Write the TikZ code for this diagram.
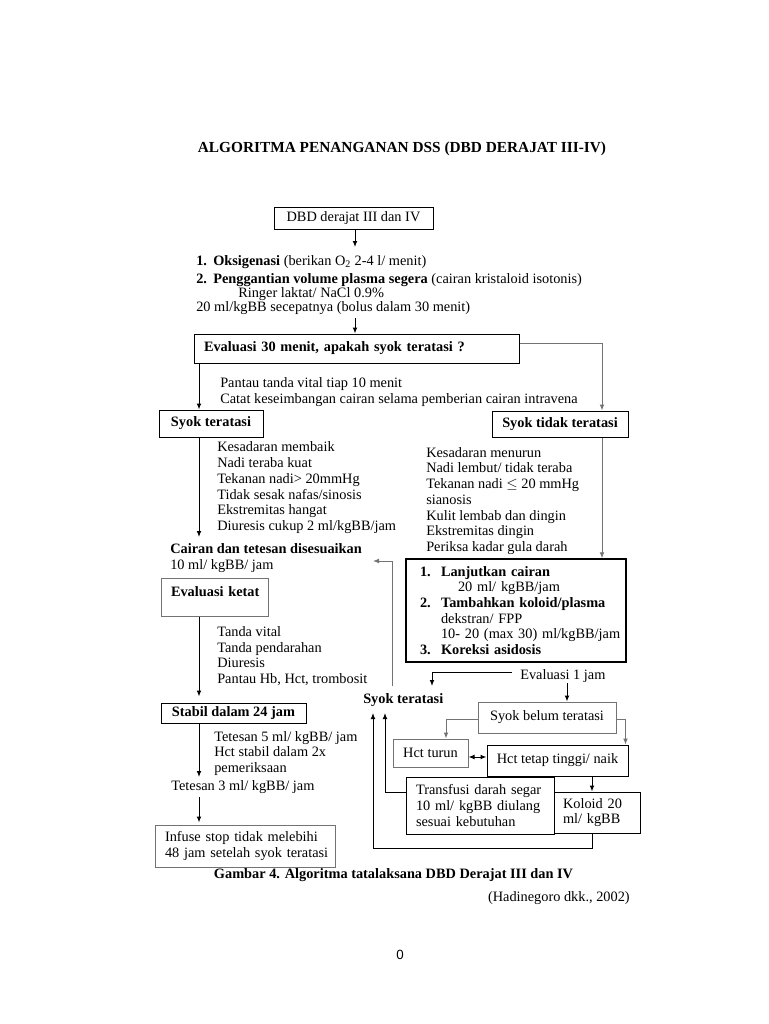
\documentclass[tikz,border=0pt]{standalone}
\usepackage{fontspec}
\setmainfont{Liberation Serif}
\newfontfamily\sansfont{Liberation Sans}
\usetikzlibrary{arrows.meta,calc}
\newcommand\teks{\fontsize{10.75pt}{11.8pt}\selectfont}
\colorlet{abu}{black!55}
\begin{document}
\begin{tikzpicture}[x=0.75pt,y=-0.75pt,
	every node/.style={font=\teks},
	kotak/.style={draw, inner sep=0pt, line width=0.75pt},
	tulis/.style={anchor=base west, inner sep=0pt, align=left},
	panah/.style={-{Latex[length=4.5pt,width=3.6pt]}, line width=0.75pt}]
	\fill[white] (0,0) rectangle (768,1024);
	\useasboundingbox (0,0) rectangle (768,1024);
	% judul
	\node[inner sep=0pt, anchor=base, font=\fontsize{11.5pt}{13pt}\selectfont\bfseries] (judul) at (402,152) {ALGORITMA PENANGANAN DSS (DBD DERAJAT III-IV)};
	% kotak
	\node[kotak, minimum width=159*0.75pt, minimum height=22*0.75pt] (dbd) at (353.5,218) {DBD derajat III dan IV};
	\node[kotak, minimum width=325*0.75pt, minimum height=29*0.75pt, text width=305*0.75pt, align=left, font=\teks\bfseries] (eval30) at (356.5,348.5) {Evaluasi 30 menit, apakah syok teratasi ?};
	\node[kotak, minimum width=104*0.75pt, minimum height=27*0.75pt, font=\teks\bfseries] (teratasi) at (211,423.5) {Syok teratasi};
	\node[kotak, minimum width=136*0.75pt, minimum height=26*0.75pt, font=\teks\bfseries] (tidak) at (560,424) {Syok tidak teratasi};
	\node[kotak, line width=1.1pt, minimum width=220*0.75pt, minimum height=103*0.75pt, text width=192*0.75pt, align=left] (lanjut) at (516,610.5) {\makebox[15.75pt][l]{\bfseries 1.}\textbf{Lanjutkan cairan}\\
		\hspace*{28.5pt}20 ml/ kgBB/jam\\
		\mbox{\makebox[15.75pt][l]{\bfseries 2.}\textbf{Tambahkan koloid/plasma}}\\
		\hspace*{15.75pt}dekstran/ FPP\\
		\mbox{\hspace*{15.75pt}10- 20 (max 30) ml/kgBB/jam}\\
		\makebox[15.75pt][l]{\bfseries 3.}\textbf{Koreksi asidosis}};
	\node[kotak, draw=abu, minimum width=107*0.75pt, minimum height=38*0.75pt, text width=87*0.75pt, align=left, text height=6.4pt, text depth=7.9pt, font=\teks\bfseries] (ketat) at (214.5,597) {\mbox{Evaluasi ketat}};
	\node[kotak, minimum width=145*0.75pt, minimum height=20*0.75pt, font=\teks\bfseries] (stabil) at (233.5,713) {Stabil dalam 24 jam};
	\node[kotak, draw=abu, minimum width=180*0.75pt, minimum height=42*0.75pt, text width=160*0.75pt, align=left] (infuse) at (245,846) {\mbox{Infuse stop tidak melebihi}\\\mbox{48 jam setelah syok teratasi}};
	\node[kotak, draw=abu, minimum width=138*0.75pt, minimum height=31*0.75pt] (belum) at (547,717.5) {Syok belum teratasi};
	\node[kotak, draw=abu, minimum width=75*0.75pt, minimum height=28*0.75pt] (turun) at (430.5,753) {Hct turun};
	\node[kotak, minimum width=141*0.75pt, minimum height=31*0.75pt] (tetap) at (557.5,760.5) {Hct tetap tinggi/ naik};
	\node[kotak, minimum width=86*0.75pt, minimum height=41*0.75pt, text width=68*0.75pt, align=left] (koloid) at (597,812.5) {Koloid 20\\ml/ kgBB};
	\node[kotak, fill=white, minimum width=148*0.75pt, minimum height=57*0.75pt, text width=128*0.75pt, align=left] (transfusi) at (480,805.5) {\mbox{Transfusi darah segar}\\\mbox{10 ml/ kgBB diulang}\\\mbox{sesuai kebutuhan}};
	% teks lepas (base = baris terakhir)
	\node[tulis] (oksigen) at (196,311.5) {\makebox[12.75pt][l]{\bfseries 1.}\textbf{Oksigenasi} (berikan O\textsubscript{2} 2-4 l/ menit)\\[1.7pt]
		\makebox[12.75pt][l]{\bfseries 2.}\textbf{Penggantian volume plasma segera} (cairan kristaloid isotonis)\\[-1.3pt]
		\hspace*{31.5pt}Ringer laktat/ NaCl 0.9\%\\[-1.3pt]
		20 ml/kgBB secepatnya (bolus dalam 30 menit)};
	\node[tulis] (pantau) at (220,403.5) {Pantau tanda vital tiap 10 menit\\Catat keseimbangan cairan selama pemberian cairan intravena};
	\node[tulis] (membaik) at (217,530.5) {Kesadaran membaik\\Nadi teraba kuat\\Tekanan nadi> 20mmHg\\Tidak sesak nafas/sinosis\\Ekstremitas hangat\\Diuresis cukup 2 ml/kgBB/jam};
	\node[tulis] (menurun) at (426,551.5) {Kesadaran menurun\\Nadi lembut/ tidak teraba\\Tekanan nadi $\leq$ 20 mmHg\\sianosis\\Kulit lembab dan dingin\\Ekstremitas dingin\\Periksa kadar gula darah};
	\node[tulis] (cairan) at (170,569.5) {\textbf{Cairan dan tetesan disesuaikan}\\10 ml/ kgBB/ jam};
	\node[tulis] (tanda) at (217,683.5) {Tanda vital\\Tanda pendarahan\\Diuresis\\Pantau Hb, Hct, trombosit};
	\node[tulis] (tetesan5) at (214,772.5) {Tetesan 5 ml/ kgBB/ jam\\Hct stabil dalam 2x\\pemeriksaan};
	\node[tulis] (tetesan3) at (171,790.5) {Tetesan 3 ml/ kgBB/ jam};
	\node[tulis] (eval1) at (520,679.5) {Evaluasi 1 jam};
	\node[tulis, font=\teks\bfseries] (st2) at (363,703.5) {Syok teratasi};
	\node[inner sep=0pt, anchor=base, font=\teks\bfseries] (gambar) at (393.5,878.5) {Gambar 4. Algoritma tatalaksana DBD Derajat III dan IV};
	\node[inner sep=0pt, anchor=base east] (sumber) at (630,901.5) {(Hadinegoro dkk., 2002)};
	\node[inner sep=0pt, anchor=base, font=\sansfont\fontsize{10pt}{12pt}\selectfont] (hal) at (400,959.5) {0};
	% titik bantu
	\coordinate (kol) at (199,0);
	\coordinate (kan) at (602,0);
	\coordinate (a1) at (355,247);
	\coordinate (a2) at (355,318);
	\coordinate (a3) at (199,537);
	\coordinate (a4) at (199,777);
	\coordinate (a5) at (199,797);
	\coordinate (a6) at (432,686);
	\coordinate (a7) at (567,683);
	\coordinate (a8) at (385,713);
	\coordinate (a9) at (373,713);
	\coordinate (a10) at (373,561);
	\coordinate (sudut) at (373,848);
	\coordinate (e30k) at ($(eval30.north east)+(0,10)$);
	\coordinate (e1k) at ($(eval1.west)+(-8,-4)$);
	\coordinate (bk) at ($(belum.west)+(0,1.5)$);
	\coordinate (bn) at ($(belum.east)+(0,1.5)$);
	\coordinate (tk) at ($(turun.north)+(15.5,0)$);
	\coordinate (tn) at ($(tetap.north east)+(-3,0)$);
	\coordinate (ks) at ($(koloid.south)+(-5,0)$);
	\coordinate (trk) at ($(transfusi.north west)+(0,16)$);
	\coordinate (s2n) at ($(st2.north west)+(29,-7)$);
	% panah
	\draw[panah] (dbd.south -| a1) -- (a1);
	\draw[panah] (a2) -- (a2 |- eval30.north);
	\draw[panah] (kol |- eval30.south) -- (kol |- teratasi.north);
	\draw[panah, abu] (e30k) -| (kan |- tidak.north);
	\draw[panah] (kol |- teratasi.south) -- (a3);
	\draw[panah, abu] (kan |- tidak.south) -- (kan |- lanjut.north);
	\draw[panah] (kol |- ketat.south) -- ($(kol |- stabil.north)+(0,-6)$);
	\draw[panah] (kol |- stabil.south) -- (a4);
	\draw[panah] (a5) -- ($(kol |- infuse.north)+(0,-2)$);
	\draw[panah] (e1k) -| (a6);
	\draw[panah] (a7) -- (a7 |- belum.north);
	\draw[panah, abu] (bk) -| (tk);
	\draw[panah, abu] (bn) -| (tn);
	\draw[{Latex[length=4.5pt,width=3.6pt]}-{Latex[length=4.5pt,width=3.6pt]}, line width=0.75pt] ($(turun.east)+(0,4)$) -- ($(tetap.west)+(0,-3.5)$);
	\draw[panah] ($(tetap.south)+(34.5,0)$) -- ($(koloid.north)+(-5,0)$);
	\draw[panah] (trk) -| (a8);
	\draw[panah] (ks) |- (sudut) -- (a9);
	\draw[panah, abu] (s2n) |- (a10);
\end{tikzpicture}
\end{document}
